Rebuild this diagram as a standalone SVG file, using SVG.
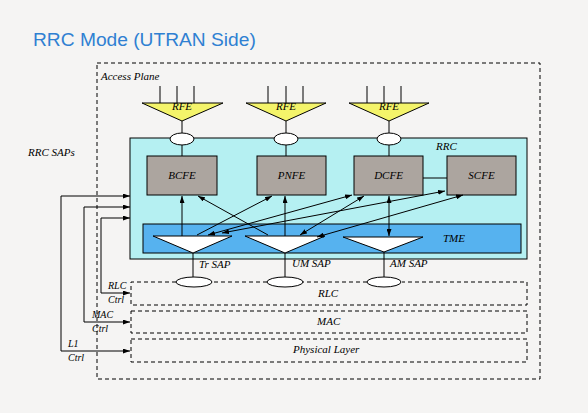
<svg xmlns="http://www.w3.org/2000/svg" width="588" height="413" viewBox="0 0 588 413">
<defs>
<marker id="ah" viewBox="0 0 7 5" refX="7" refY="2.5" markerWidth="7" markerHeight="5" markerUnits="userSpaceOnUse" orient="auto-start-reverse">
<path d="M0,0 L7,2.5 L0,5 z" fill="#000"/>
</marker>
<style>
.t{font-family:"Liberation Serif","Times New Roman",serif;font-style:italic;font-size:11px;fill:#000}
.s{font-size:10px}
.c{text-anchor:middle}
.ln{stroke:#000;stroke-width:1;fill:none}
.ar{stroke:#000;stroke-width:1;fill:none;marker-end:url(#ah)}
.ar2{stroke:#000;stroke-width:1;fill:none;marker-end:url(#ah);marker-start:url(#ah)}
.dash{stroke:#000;stroke-width:1;fill:none;stroke-dasharray:4,3}
.fe{fill:#aca59f;stroke:#000;stroke-width:1}
.rfe{fill:#f4f46a;stroke:#000;stroke-width:1}
.sap{fill:#fff;stroke:#000;stroke-width:1}
.el{fill:#fff;stroke:#000;stroke-width:1}
</style>
</defs>
<rect width="588" height="413" fill="#f5f4f3"/>
<text x="33" y="46" font-family="'Liberation Sans',Arial,sans-serif" font-size="19.2" fill="#2f80d2">RRC Mode (UTRAN Side)</text>

<g id="access-plane">
<rect x="97" y="63" width="443" height="316" class="dash"/>
<text x="101" y="80" class="t">Access Plane</text>
</g>

<g id="rrc">
<rect x="130" y="138" width="397" height="121" fill="#b5f0f2" stroke="#000"/>
<text x="436" y="150" class="t">RRC</text>
</g>

<g id="tme">
<rect x="143" y="224" width="378" height="29" fill="#56b2ef" stroke="#000"/>
<text x="443" y="242" class="t">TME</text>
</g>

<g id="rfe1">
<path d="M160,86V103M177,86V103M194,86V103M182,121V133M182,145V156" class="ln"/>
<polygon points="142,103 223,103 182,121" class="rfe"/>
<text x="182" y="110" class="t c">RFE</text>
<ellipse cx="182" cy="139" rx="12" ry="6" class="el"/>
</g>
<g id="rfe2">
<path d="M268,86V103M286,86V103M303,86V103M286,121V133M286,145V156" class="ln"/>
<polygon points="246,103 326,103 286,121" class="rfe"/>
<text x="286" y="110" class="t c">RFE</text>
<ellipse cx="286" cy="139" rx="12" ry="6" class="el"/>
</g>
<g id="rfe3">
<path d="M367,86V103M384,86V103M401,86V103M389,121V133M389,145V156" class="ln"/>
<polygon points="349,103 429,103 389,121" class="rfe"/>
<text x="389" y="110" class="t c">RFE</text>
<ellipse cx="389" cy="139" rx="12" ry="6" class="el"/>
</g>

<g id="bcfe"><rect x="147" y="156" width="70" height="39" class="fe"/><text x="182" y="179" class="t c">BCFE</text></g>
<g id="pnfe"><rect x="257" y="156" width="69" height="39" class="fe"/><text x="291.5" y="179" class="t c">PNFE</text></g>
<g id="dcfe"><rect x="354" y="156" width="69" height="39" class="fe"/><text x="388.5" y="179" class="t c">DCFE</text></g>
<g id="scfe"><rect x="447" y="156" width="69" height="39" class="fe"/><text x="481.5" y="179" class="t c">SCFE</text></g>

<g id="tr-sap">
<polygon points="153,236 232,236 193,253" class="sap"/>
<path d="M193,253V277" class="ln"/>
<ellipse cx="194" cy="282" rx="18" ry="5" class="el"/>
<text x="199" y="268" class="t">Tr SAP</text>
</g>
<g id="um-sap">
<polygon points="245,236 325,236 285,253" class="sap"/>
<path d="M285,253V277" class="ln"/>
<ellipse cx="285" cy="282" rx="18" ry="5" class="el"/>
<text x="292" y="267" class="t">UM SAP</text>
</g>
<g id="am-sap">
<polygon points="343,237 423,237 384,252" class="sap"/>
<path d="M384,252V277" class="ln"/>
<ellipse cx="384" cy="282" rx="17" ry="5" class="el"/>
<text x="390" y="267" class="t">AM SAP</text>
</g>

<g id="rlc">
<path d="M176,282H131V305H527V282H402M367,282H303M267,282H212" class="dash"/>
<text x="318" y="297" class="t">RLC</text>
</g>
<g id="mac">
<rect x="131" y="311" width="396" height="22" class="dash"/>
<text x="317" y="325" class="t">MAC</text>
</g>
<g id="phy">
<rect x="131" y="339" width="396" height="23" class="dash"/>
<text x="293" y="353" class="t">Physical Layer</text>
</g>

<g id="rrc-saps">
<text x="28" y="156" class="t">RRC SAPs</text>
<text x="108" y="289" class="t s">RLC</text>
<text x="108" y="303" class="t s">Ctrl</text>
<text x="92" y="318" class="t s">MAC</text>
<text x="92" y="332" class="t s">Ctrl</text>
<text x="68" y="347" class="t s">L1</text>
<text x="68" y="361" class="t s">Ctrl</text>
</g>

<g id="connectors">
<path d="M130,196H61V351H130" class="ar2"/>
<path d="M130,207H84V322H130" class="ar2"/>
<path d="M130,218H101V293H130" class="ar2"/>
<path d="M182,236V196" class="ar"/>
<path d="M268,235L198,196" class="ar"/>
<path d="M197,235L272,196" class="ar"/>
<path d="M285,236V196" class="ar"/>
<path d="M208,235L352,195" class="ar2"/>
<path d="M222,233L445,191" class="ar2"/>
<path d="M300,235L364,196" class="ar2"/>
<path d="M317,237L463,195" class="ar2"/>
<path d="M389,236V196" class="ar2"/>
<path d="M423,178H447" class="ln"/>
</g>
</svg>
